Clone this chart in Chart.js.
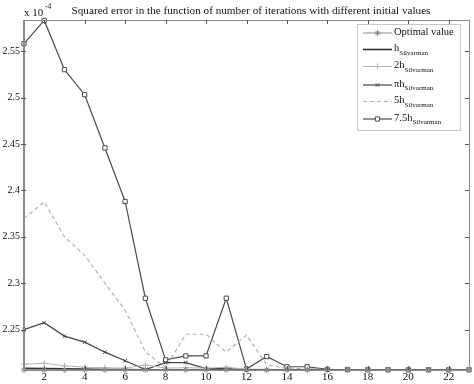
<!DOCTYPE html>
<html>
<head>
<meta charset="utf-8">
<script src="https://cdn.jsdelivr.net/npm/chart.js"></script>
<style>
  html, body { margin: 0; padding: 0; background: #fff; }
  #wrap { width: 474px; height: 384px; }
</style>
</head>
<body>
<div id="wrap"><canvas id="errChart" width="474" height="384"></canvas></div>
<script>
// values are in units of 10^-4
const iterations = [1, 2, 3, 4, 5, 6, 7, 8, 9, 10, 11, 12, 13, 14, 15, 16, 17, 18, 19, 20, 21, 22, 23];
const xTicks = [2, 4, 6, 8, 10, 12, 14, 16, 18, 20, 22];
const yTicks = [2.25, 2.3, 2.35, 2.4, 2.45, 2.5, 2.55];

const optimalValue = [2.2067, 2.2067, 2.2067, 2.2067, 2.2067, 2.2067, 2.2067, 2.2067, 2.2067, 2.2067, 2.2067, 2.2067,
  2.2067, 2.2067, 2.2067, 2.2067, 2.2067, 2.2067, 2.2067, 2.2067, 2.2067, 2.2067, 2.2067];
const hSilverman = [2.2082, 2.2080, 2.2077, 2.2074, 2.2071, 2.2069, 2.2068, 2.2068, 2.2068, 2.2067, 2.2067, 2.2067,
  2.2067, 2.2067, 2.2067, 2.2067, 2.2067, 2.2067, 2.2067, 2.2067, 2.2067, 2.2067, 2.2067];
const twoH = [2.2128, 2.2138, 2.2110, 2.2095, 2.2090, 2.2085, 2.2120, 2.2085, 2.2090, 2.2085, 2.2095, 2.2075,
  2.2072, 2.2070, 2.2069, 2.2068, 2.2067, 2.2067, 2.2067, 2.2067, 2.2067, 2.2067, 2.2067];
const piH = [2.2500, 2.2575, 2.2430, 2.2365, 2.2257, 2.2164, 2.2070, 2.2145, 2.2145, 2.2080, 2.2080, 2.2068,
  2.2067, 2.2067, 2.2067, 2.2067, 2.2067, 2.2067, 2.2067, 2.2067, 2.2067, 2.2067, 2.2067];
const fiveH = [2.3698, 2.3876, 2.3500, 2.3300, 2.3000, 2.2710, 2.2260, 2.2090, 2.2450, 2.2450, 2.2257, 2.2440,
  2.2120, 2.2085, 2.2080, 2.2070, 2.2068, 2.2067, 2.2067, 2.2067, 2.2067, 2.2067, 2.2067];
const sevenHalfH = [2.5580, 2.5830, 2.5300, 2.5030, 2.4457, 2.3880, 2.2838, 2.2174, 2.2217, 2.2217, 2.2838, 2.2075,
  2.2210, 2.2100, 2.2100, 2.2072, 2.2070, 2.2068, 2.2067, 2.2067, 2.2067, 2.2067, 2.2067];

const seriesNames = ["Optimal value", "h", "2h", "\u03c0h", "5h", "7.5h"];
const seriesSubs = ["", "Silvarman", "Silvarman", "Silvarman", "Silvarman", "Silvarman"];

const SERIF = "'Liberation Serif', 'DejaVu Serif', serif";

function pts(vals) {
  return iterations.map((x, i) => ({ x: x, y: vals[i] }));
}

const styles = [
  { color: "#8a8a8a", width: 1, point: "star", radius: 3, dash: [] },
  { color: "#333333", width: 1.6, point: false, radius: 0, dash: [] },
  { color: "#b4b4b4", width: 1, point: "cross", radius: 3, dash: [] },
  { color: "#444444", width: 1.2, point: "crossRot", radius: 2.5, dash: [] },
  { color: "#b0b0b0", width: 1.2, point: false, radius: 0, dash: [4, 3] },
  { color: "#4a4a4a", width: 1.2, point: "rect", radius: 3, dash: [] }
];
const seriesData = [optimalValue, hSilverman, twoH, piH, fiveH, sevenHalfH];

const datasets = seriesData.map((vals, i) => ({
  label: seriesNames[i] + seriesSubs[i],
  data: pts(vals),
  borderColor: styles[i].color,
  backgroundColor: "#ffffff",
  borderWidth: styles[i].width,
  borderDash: styles[i].dash,
  pointStyle: styles[i].point,
  pointRadius: styles[i].radius,
  pointBorderColor: styles[i].color,
  pointBackgroundColor: "#ffffff",
  pointBorderWidth: 1,
  tension: 0,
  clip: false
}));

const framePlugin = {
  id: "frame",
  afterDraw(chart) {
    const ctx = chart.ctx;
    const a = chart.chartArea;
    const xs = chart.scales.x, ys = chart.scales.y;
    ctx.save();
    // box
    ctx.strokeStyle = "#8c8c8c";
    ctx.lineWidth = 1;
    ctx.strokeRect(a.left + 0.5, a.top + 0.5, a.right - a.left, a.bottom - a.top);
    ctx.lineWidth = 2;
    ctx.beginPath();
    ctx.moveTo(a.left, a.top); ctx.lineTo(a.left, a.bottom);
    ctx.stroke();
    // ticks
    ctx.lineWidth = 1;
    ctx.strokeStyle = "#555";
    ctx.beginPath();
    xTicks.forEach(v => {
      const px = Math.round(xs.getPixelForValue(v)) + 0.5;
      ctx.moveTo(px, a.bottom); ctx.lineTo(px, a.bottom - 4);
      ctx.moveTo(px, a.top); ctx.lineTo(px, a.top + 4);
    });
    yTicks.forEach(v => {
      const py = Math.round(ys.getPixelForValue(v)) + 0.5;
      ctx.moveTo(a.left - 3, py); ctx.lineTo(a.left + 2, py);
      ctx.moveTo(a.right, py); ctx.lineTo(a.right - 4, py);
    });
    ctx.stroke();

    // title and exponent
    ctx.fillStyle = "#111";
    ctx.textBaseline = "alphabetic";
    ctx.textAlign = "center";
    ctx.font = "11.2px " + SERIF;
    ctx.fillText("Squared error in the function of number of iterations with different initial values", 251, 14);
    ctx.textAlign = "left";
    ctx.font = "11px " + SERIF;
    ctx.fillText("x 10", 24, 16);
    ctx.font = "7.5px " + SERIF;
    ctx.fillText("-4", 45, 9);

    // legend
    const lx = 357, ly = 24, lw = 103, lh = 106;
    ctx.fillStyle = "#fff";
    ctx.fillRect(lx, ly, lw, lh);
    ctx.strokeStyle = "#c8c8c8";
    ctx.lineWidth = 1;
    ctx.strokeRect(lx + 0.5, ly + 0.5, lw, lh);
    const rowY = [33, 49.5, 66.5, 85, 101.5, 119];
    chart.data.datasets.forEach((ds, i) => {
      const y = rowY[i];
      const st = styles[i];
      ctx.save();
      ctx.strokeStyle = st.color;
      ctx.lineWidth = st.width;
      ctx.setLineDash(st.dash);
      ctx.beginPath();
      ctx.moveTo(363, y); ctx.lineTo(392, y);
      ctx.stroke();
      ctx.setLineDash([]);
      if (st.point) {
        ctx.fillStyle = "#fff";
        ctx.strokeStyle = st.color;
        ctx.lineWidth = 1;
        Chart.helpers.drawPoint(ctx, {
          pointStyle: st.point, radius: st.radius, rotation: 0, borderWidth: 1
        }, 377.5, y);
      }
      ctx.restore();
      ctx.fillStyle = "#111";
      ctx.font = "10.5px " + SERIF;
      ctx.textBaseline = "middle";
      ctx.fillText(seriesNames[i], 394, y - 1);
      if (seriesSubs[i]) {
        const w = ctx.measureText(seriesNames[i]).width;
        ctx.font = "7px " + SERIF;
        ctx.fillText(seriesSubs[i], 394 + w, y + 3.5);
      }
    });
    ctx.restore();
  }
};

new Chart(document.getElementById("errChart"), {
  type: "line",
  data: { datasets: datasets },
  options: {
    responsive: false,
    animation: false,
    layout: { padding: { top: 20, right: 5, left: 0, bottom: 0 } },
    plugins: {
      legend: { display: false },
      title: { display: false },
      tooltip: { enabled: false }
    },
    scales: {
      x: {
        type: "linear",
        min: 1,
        max: 23,
        afterBuildTicks: axis => { axis.ticks = xTicks.map(v => ({ value: v })); },
        afterFit: s => { s.height = 14; },
        grid: { display: false, drawTicks: false },
        border: { display: false },
        ticks: { color: "#111", padding: 1, font: { family: SERIF, size: 11 }, maxRotation: 0 }
      },
      y: {
        type: "linear",
        min: 2.2065,
        max: 2.5835,
        afterBuildTicks: axis => { axis.ticks = yTicks.map(v => ({ value: v })); },
        afterFit: s => { s.width = 24; },
        grid: { display: false, drawTicks: false },
        border: { display: false },
        ticks: { color: "#111", padding: 4, font: { family: SERIF, size: 10 },
          callback: v => String(Math.round(v * 100) / 100) }
      }
    }
  },
  plugins: [framePlugin]
});
</script>
</body>
</html>
